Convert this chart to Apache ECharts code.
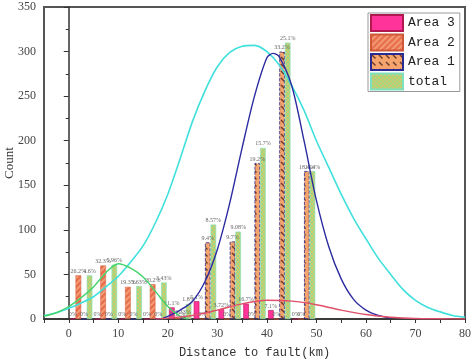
<!DOCTYPE html>
<html><head><meta charset="utf-8">
<script src="https://cdn.jsdelivr.net/npm/echarts@6/dist/echarts.min.js"></script>
<style>html,body{margin:0;padding:0;background:#fff}#c{width:474px;height:361px}</style>
</head><body><div id="c"></div>
<script>
// ---- data ----
const binCenters = [2.5, 7.5, 12.5, 17.5, 22.5, 27.5, 32.5, 37.5, 42.5, 47.5];
const area3 = [0, 0, 0, 0, 13, 20, 11, 17, 10, 0];
const area2 = [49, 60, 36, 39, 1, 0, 0, 0, 0, 0];
const area1 = [0, 0, 0, 0, 3, 86, 87, 175, 300, 166];
const total = [49, 61, 37, 41, 17, 106, 98, 192, 310, 166];
const area3Labels = ['0%','0%','0%','0%','11.1%','5.1%','3.72%','16.7%','7.1%','0%'];
const area2Labels = ['26.2%','32.3%','19.3%','20.2%','0.52%','0%','0%','0%','0%','0%'];
const area1Labels = ['0%','0%','0%','0%','0.33%','9.4%','9.7%','19.2%','33.2%','18.4%'];
const totalLabels = ['4.6%','5.96%','3.63%','3.43%','1.8%','8.57%','9.08%','15.7%','25.1%','13.4%'];

const totalFitX = [-5,-2.5,0,2.5,5,7.5,10,12.5,15,17.5,20,22.5,25,27.5,30,32.5,35,37.5,40,42.5,45,47.5,50,52.5,55,57.5,60,62.5,65,67.5,70,72.5,75,77.5,80];
const totalFitY = [4,7,12,18,25,36,48,64,82,108,140,180,222,256,283,299,306,307,300,285,262,234,200,170,140,113,90,68,50,33,21,13,8,4,2];
const area1FitX = [19,20,22.5,25,27.5,30,32.5,35,37.5,40,41.25,42.5,45,47.5,50,52.5,55,57.5,60,62.5,65];
const area1FitY = [1,3,10,20,42,78,130,192,250,293,298,294,262,200,133,81,45,22,10,4,1];
const area2FitX = [-5,-2.5,0,2.5,5,7.5,10,12.5,15,17.5,20,22.5,24];
const area2FitY = [3,7,14,24,36,52,62,57,47,31,14,3,0];
const area3FitX = [17.5,20,25,30,35,40,45,50,55,60,65,70,75,80];
const area3FitY = [0,1,4,10,17,21,20,16,10,5,2,0.5,0.2,0];

const xTicks = [0,10,20,30,40,50,60,70,80];

// ---- patterns ----
function mk(size, draw){const c=document.createElement('canvas');c.width=c.height=size;const g=c.getContext('2d');draw(g,size);return {image:c,repeat:'repeat'};}
const pat2 = mk(6,(g,s)=>{g.fillStyle='#E8704C';g.fillRect(0,0,s,s);g.strokeStyle='#F4A27E';g.lineWidth=1.6;
  g.beginPath();g.moveTo(0,s);g.lineTo(s,0);g.moveTo(-1,1);g.lineTo(1,-1);g.moveTo(s-1,s+1);g.lineTo(s+1,s-1);g.stroke();});
const pat1 = mk(7,(g,s)=>{g.fillStyle='#F4A46C';g.fillRect(0,0,s,s);g.strokeStyle='#6A3A2C';g.lineWidth=1.4;
  g.beginPath();g.moveTo(1,1);g.lineTo(4.5,4.5);g.stroke();});
const patT = mk(4,(g,s)=>{g.fillStyle='#9ED884';g.fillRect(0,0,s,s);g.strokeStyle='#D2CB6C';g.lineWidth=1;
  g.beginPath();g.moveTo(0,0);g.lineTo(s,s);g.moveTo(0,s);g.lineTo(s,0);g.stroke();});

const pair = (xs, ys) => xs.map((x,i)=>[x, ys[i]]);
const barPts = vals => binCenters.map((x,i)=>[x, vals[i]]);
const lbl = arr => ({show:true, position:'top', distance:1, fontSize:6, color:'#666',
  fontFamily:'Liberation Serif', formatter: p => arr[p.dataIndex]});

const chart = echarts.init(document.getElementById('c'), null, {renderer:'canvas'});
const barCommon = {type:'bar', barWidth:5.6, barGap:'0%', z:2};
chart.setOption({
  animation:false,
  grid:{left:44, right:9, top:7, bottom:42, show:true, borderColor:'#555', borderWidth:2, outerBoundsMode:'none', containLabel:false},
  legend:{
    data:['Area 3','Area 2','Area 1','total'], orient:'vertical', left:368, top:13,
    icon:'rect', itemWidth:32, itemHeight:16, itemGap:1.5, padding:[1,5,1,2],
    borderColor:'#999', borderWidth:1, backgroundColor:'#fff',
    textStyle:{fontFamily:'Liberation Mono', fontSize:13, lineHeight:16, color:'#222'}
  },
  xAxis:{type:'value', min:-5, max:80, interval:5,
    name:'Distance to fault(km)', nameLocation:'middle', nameGap:28, nameMoveOverlap:false,
    nameTextStyle:{fontFamily:'Liberation Mono', fontSize:12, color:'#333'},
    axisLine:{lineStyle:{color:'#333', width:1.5}},
    axisTick:{length:4, lineStyle:{color:'#333'}},
    axisLabel:{fontFamily:'Liberation Serif', fontSize:12, color:'#444', margin:9,
      formatter: v => xTicks.indexOf(v) >= 0 ? String(v) : ''},
    splitLine:{show:false}},
  yAxis:{type:'value', min:0, max:350, interval:50,
    name:'Count', nameLocation:'middle', nameGap:28, nameMoveOverlap:false,
    nameTextStyle:{fontFamily:'Liberation Serif', fontSize:13, color:'#333'},
    axisLine:{show:true, lineStyle:{color:'#333', width:1.5}},
    axisTick:{show:true, length:5, lineStyle:{color:'#333'}},
    minorTick:{show:true, splitNumber:2, length:3, lineStyle:{color:'#333'}},
    axisLabel:{fontFamily:'Liberation Serif', fontSize:12, color:'#444', margin:8},
    splitLine:{show:false}},
  series:[
    Object.assign({name:'Area 3', data:barPts(area3), itemStyle:{color:'#FF3399', borderColor:'#B01850', borderWidth:0.6}, label:lbl(area3Labels)}, barCommon),
    Object.assign({name:'Area 2', data:barPts(area2), itemStyle:{color:pat2, borderColor:'#D05838', borderWidth:0.5}, label:lbl(area2Labels)}, barCommon),
    Object.assign({name:'Area 1', data:barPts(area1), itemStyle:{color:pat1, borderColor:'#2A2A90', borderWidth:0.8, borderType:'dashed'}, label:lbl(area1Labels)}, barCommon),
    Object.assign({name:'total', data:barPts(total), itemStyle:{color:patT, borderColor:'#7FE0C0', borderWidth:0.6}, label:lbl(totalLabels)}, barCommon),
    {type:'line', data:pair(totalFitX,totalFitY), smooth:0.3, symbol:'none', z:5, lineStyle:{color:'#40E0DC', width:1.6}},
    {type:'line', data:pair(area1FitX,area1FitY), smooth:0.3, symbol:'none', z:5, lineStyle:{color:'#2C2CA0', width:1.4}},
    {type:'line', data:pair(area2FitX,area2FitY), smooth:0.3, symbol:'none', z:5, lineStyle:{color:'#44D46A', width:1.4}},
    {type:'line', data:pair(area3FitX,area3FitY), smooth:0.3, symbol:'none', z:5, lineStyle:{color:'#E0506A', width:1.4}}
  ]
});
</script></body></html>
